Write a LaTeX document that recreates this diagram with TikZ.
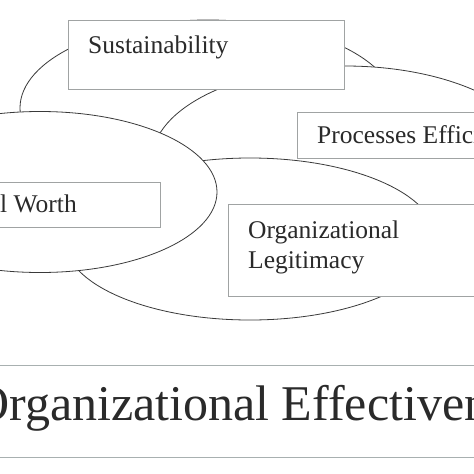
\documentclass[tikz,border=0pt]{standalone}
\usepackage{fontspec}
\setmainfont{Liberation Serif}
\definecolor{ovalc}{HTML}{3A3A3A}
\definecolor{boxc}{HTML}{A0A3A3}
\definecolor{bandc}{HTML}{A8B0B0}
\definecolor{txtc}{HTML}{2A2A2A}
\begin{document}
\begin{tikzpicture}[x=1pt,y=-1pt,
  oval/.style={draw=ovalc, line width=0.8pt, fill=white},
  box/.style={draw=boxc, line width=1.1pt, fill=white, inner sep=0pt, anchor=north west},
  band/.style={draw=bandc, line width=1.4pt, fill=white, inner sep=0pt, anchor=north west},
  lbl/.style={inner sep=0pt, anchor=base west, text=txtc, font=\fontsize{25.5}{30}\selectfont},
  bigtxt/.style={inner sep=0pt, anchor=base west, text=txtc, font=\fontsize{50}{60}\selectfont}]
\fill[white] (0,0) rectangle (474,474);
\useasboundingbox (0,0) rectangle (474,474);
\clip (0,0) rectangle (474,474);
% ellipses, back to front
\filldraw[oval] (208,108) ellipse [x radius=188, y radius=88];
\filldraw[oval] (345,160) ellipse [x radius=193, y radius=94];
\filldraw[oval] (250,239) ellipse [x radius=186, y radius=81];
\filldraw[oval] (40,192) ellipse [x radius=177, y radius=80.5];
% boxes
\node[box, minimum width=276pt, minimum height=69pt] (sustbox) at (68,20) {};
\node[box, minimum width=190pt, minimum height=46pt] (procbox) at (297,112) {};
\node[box, minimum width=180pt, minimum height=45pt] (worthbox) at (-20,182) {};
\node[box, minimum width=260pt, minimum height=92pt] (legitbox) at (228,204) {};
\node[band, minimum width=500pt, minimum height=92pt] (effbox) at (-13,365) {};
% texts
\node[lbl] (susttxt) at (88,53) {Sustainability};
\node[lbl] (proctxt) at (317,143) {Processes Efficiency};
\node[lbl] (worthtxt) at (0,212) {l Worth};
\node[lbl] (legittxta) at (248,238) {Organizational};
\node[lbl] (legittxtb) at (248,268) {Legitimacy};
\node[bigtxt] (efftxt) at (-27,420) {Organizational Effectiveness};
\end{tikzpicture}
\end{document}
